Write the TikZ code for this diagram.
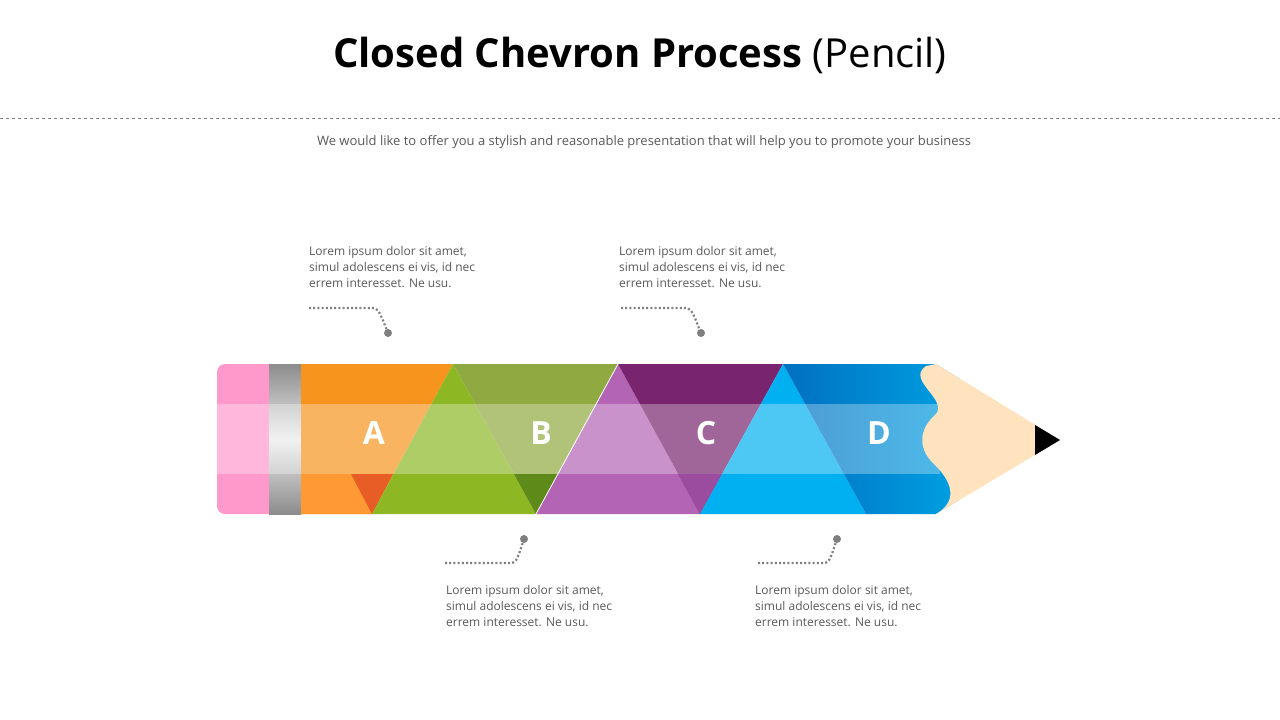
\documentclass[tikz,border=0pt]{standalone}
\usepackage{fontspec}
\setmainfont{Open Sans}
\usetikzlibrary{positioning}
\definecolor{txtgray}{HTML}{595959}
\definecolor{dotgray}{HTML}{7F7F7F}
\definecolor{eraser}{HTML}{FF99CC}
\definecolor{orangeA}{HTML}{F7941D}
\definecolor{orangeL}{HTML}{FF9933}
\definecolor{orangeD}{HTML}{E85C25}
\definecolor{greenU}{HTML}{8DB824}
\definecolor{greenT}{HTML}{8FAA40}
\definecolor{greenD}{HTML}{5E8A1A}
\definecolor{purpleU}{HTML}{B364B5}
\definecolor{purpleT}{HTML}{78246F}
\definecolor{purpleD}{HTML}{9B4C9E}
\definecolor{blueU}{HTML}{00B0F0}
\definecolor{blueL}{HTML}{0070C0}
\definecolor{blueR}{HTML}{00A0E3}
\definecolor{wood}{HTML}{FFE2BE}
\tikzset{
  lorem/.style={anchor=north west,align=left,inner sep=0pt,text=txtgray,font=\fontsize{12}{16}\selectfont},
  dotline/.style={dotgray,line width=2.2pt,dash pattern=on 2pt off 2.2pt},
  letter/.style={text=white,font=\fontsize{32}{36}\selectfont\bfseries},
  dotend/.style={circle,fill=dotgray,inner sep=0pt,minimum size=8pt},
}
\begin{document}
\begin{tikzpicture}[x=1pt,y=-1pt]
    \useasboundingbox[fill=white] (0,0) rectangle (1280,720);
    % title
    \node (title) at (640,55) {\fontsize{40}{46}\selectfont\textbf{Closed Chevron Process} (Pencil)};
    \draw[gray,dashed] (0,118) -- (1280,118);
    \node[text=txtgray,font=\fontsize{13}{16}\selectfont] (sub) at (644,142) {We would like to offer you a stylish and reasonable presentation that will help you to promote your business};
    % eraser and ferrule
    \fill[eraser] (269,364) -- (225,364) arc[start angle=270,end angle=180,radius=8] -- (217,506) arc[start angle=180,end angle=90,radius=8] -- (269,514) -- cycle;
    \shade[top color=gray!90,bottom color=gray!90,middle color=gray!15] (269,364) rectangle (301,514);
    % orange
    \fill[orangeA] (301,364) -- (453,364) -- (372,514) -- (301,514) -- cycle;
    \fill[orangeL] (301,474) -- (301,514) -- (372,514) -- (351,474) -- cycle;
    \fill[orangeD] (351,474) -- (372,514) -- (393,474) -- cycle;
    % green
    \fill[greenU] (372,514) -- (453,364) -- (536,514) -- cycle;
    \fill[greenT] (453,364) -- (618,364) -- (536,514) -- cycle;
    \fill[greenD] (514,474) -- (536,514) -- (558,474) -- cycle;
    % purple
    \fill[purpleU] (536,514) -- (618,364) -- (700,514) -- cycle;
    \fill[purpleT] (618,364) -- (783,364) -- (700,514) -- cycle;
    \fill[purpleD] (678,474) -- (700,514) -- (722,474) -- cycle;
    \draw[white,line width=0.8pt] (536,514) -- (618,364);
    % blue
    \fill[blueU] (700,514) -- (783,364) -- (866,514) -- cycle;
    \shade[left color=blueL,right color=blueR] (783,364) -- (960,364) -- (960,514) -- (866,514) -- cycle;
    % highlight stripe
    \fill[white,opacity=0.3] (217,404) rectangle (940,474);
    % wood and lead
    \fill[white] (936,364) -- (1060,440) -- (1280,440) -- (1280,362) -- (936,362) -- cycle;
    \fill[white] (936,514) -- (1060,440) -- (1280,440) -- (1280,516) -- (936,516) -- cycle;
    \fill[wood] (936,364) -- (1060,440) -- (936,514)
        .. controls (960,500) and (950,480) .. (935,465)
        .. controls (918,450) and (918,430) .. (935,415)
        .. controls (950,400) and (905,380) .. (926,366) -- cycle;
    \fill[black] (1035,425) -- (1060,440) -- (1035,455) -- cycle;
    % letters
    \node[letter] (lA) at (374,433) {A};
    \node[letter] (lB) at (541,433) {B};
    \node[letter] (lC) at (706,433) {C};
    \node[letter] (lD) at (879,433) {D};
    % callouts
    \node[lorem] (t1) at (309,246) {Lorem ipsum dolor sit amet,\\simul adolescens ei vis, id nec\\errem interesset. Ne usu.};
    \node[lorem] (t2) at (619,246) {Lorem ipsum dolor sit amet,\\simul adolescens ei vis, id nec\\errem interesset. Ne usu.};
    \node[lorem] (t3) at (446,585) {Lorem ipsum dolor sit amet,\\simul adolescens ei vis, id nec\\errem interesset. Ne usu.};
    \node[lorem] (t4) at (755,585) {Lorem ipsum dolor sit amet,\\simul adolescens ei vis, id nec\\errem interesset. Ne usu.};
    \node[dotend] (d1) at (388,333) {};
    \node[dotend] (d2) at (701,333) {};
    \node[dotend] (d3) at (524,539) {};
    \node[dotend] (d4) at (837,539) {};
    \coordinate (e1) at (309,308);
    \coordinate (e2) at (621,308);
    \coordinate (e3) at (445,563);
    \coordinate (e4) at (758,563);
    \draw[dotline] (e1) -- (370,308) .. controls (378,308) .. (d1);
    \draw[dotline] (e2) -- (683,308) .. controls (691,308) .. (d2);
    \draw[dotline] (e3) -- (508,563) .. controls (516,563) .. (d3);
    \draw[dotline] (e4) -- (821,563) .. controls (829,563) .. (d4);
\end{tikzpicture}
\end{document}
